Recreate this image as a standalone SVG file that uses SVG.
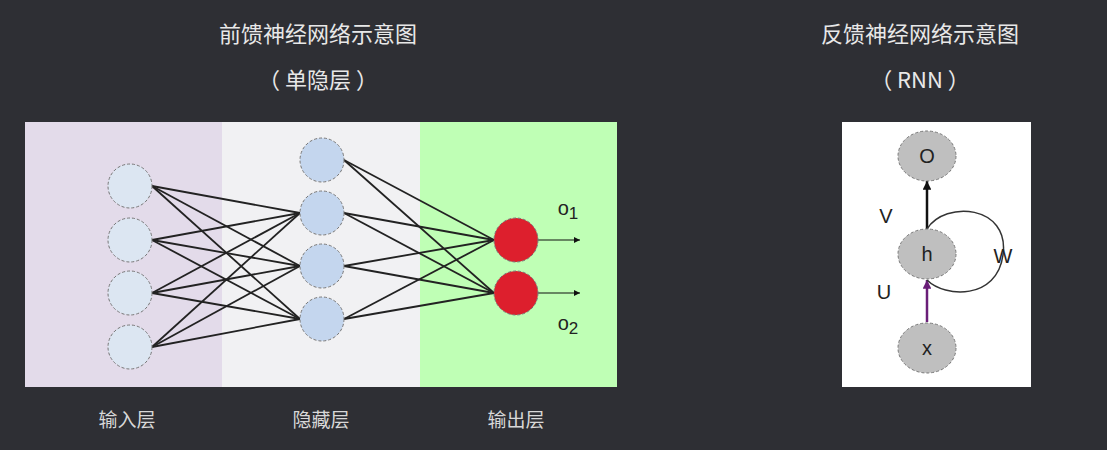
<svg xmlns="http://www.w3.org/2000/svg" width="1107" height="450" viewBox="0 0 1107 450">
<defs>
<style>
.t{font-family:"Noto Sans CJK SC","Liberation Sans",sans-serif;fill:#e8e8e8;font-size:22px;text-anchor:middle}
.b{font-family:"Noto Sans CJK SC","Liberation Sans",sans-serif;fill:#d8d8d8;font-size:19px;text-anchor:middle}
.n{stroke:#777;stroke-width:1;stroke-dasharray:3,2}
.in{fill:#dce6f2}.hid{fill:#c4d6ee}.out{fill:#dd1f2d}.g{fill:#bfbfbf}
.e line{stroke:#222;stroke-width:1.8}
.l{font-family:"Liberation Sans",sans-serif;fill:#222;font-size:20px;text-anchor:middle}
</style>
<marker id="a" viewBox="0 0 8 8" refX="8" refY="4" markerWidth="5" markerHeight="5" orient="auto"><path d="M0,0L8,4L0,8z" fill="#111"/></marker>
<marker id="a2" viewBox="0 0 8 8" refX="8" refY="4" markerWidth="3.5" markerHeight="3.5" orient="auto"><path d="M0,0L8,4L0,8z" fill="#111"/></marker>
<marker id="ap" viewBox="0 0 8 8" refX="8" refY="4" markerWidth="3.5" markerHeight="3.5" orient="auto"><path d="M0,0L8,4L0,8z" fill="#6a1e78"/></marker>
</defs>
<rect width="1107" height="450" fill="#2e2f34"/>
<text class="t" x="318" y="42">前馈神经网络示意图</text>
<text class="t" x="318" y="88">（ 单隐层 ）</text>
<text class="t" x="920" y="42">反馈神经网络示意图</text>
<text class="t" x="920" y="88">（ RNN ）</text>
<rect x="25" y="122" width="197" height="265" fill="#e3dbea"/>
<rect x="222" y="122" width="198" height="265" fill="#f1f1f3"/>
<rect x="420" y="122" width="197" height="265" fill="#bfffb5"/>
<rect x="842" y="122" width="189" height="265" fill="#fff"/>
<g id="connectors">
<g class="e">
<line x1="152" y1="186" x2="300" y2="213"/><line x1="152" y1="186" x2="300" y2="266"/><line x1="152" y1="186" x2="300" y2="319"/>
<line x1="152" y1="240" x2="300" y2="213"/><line x1="152" y1="240" x2="300" y2="266"/><line x1="152" y1="240" x2="300" y2="319"/>
<line x1="152" y1="293" x2="300" y2="213"/><line x1="152" y1="293" x2="300" y2="266"/><line x1="152" y1="293" x2="300" y2="319"/>
<line x1="152" y1="347" x2="300" y2="213"/><line x1="152" y1="347" x2="300" y2="266"/><line x1="152" y1="347" x2="300" y2="319"/>
<line x1="344" y1="160" x2="494" y2="240"/><line x1="344" y1="160" x2="494" y2="293"/>
<line x1="344" y1="213" x2="494" y2="240"/><line x1="344" y1="213" x2="494" y2="293"/>
<line x1="344" y1="266" x2="494" y2="240"/><line x1="344" y1="266" x2="494" y2="293"/>
<line x1="344" y1="319" x2="494" y2="240"/><line x1="344" y1="319" x2="494" y2="293"/>
</g>
<line x1="538" y1="240" x2="580" y2="240" stroke="#111" stroke-width="1.2" marker-end="url(#a)"/>
<line x1="538" y1="293" x2="580" y2="293" stroke="#111" stroke-width="1.2" marker-end="url(#a)"/>
<line x1="927" y1="229" x2="927" y2="181" stroke="#111" stroke-width="2.5" marker-end="url(#a2)"/>
<line x1="927" y1="322" x2="927" y2="280" stroke="#6a1e78" stroke-width="2.5" marker-end="url(#ap)"/>
<path d="M927,229 C945,200 1010,205 1003,255 C997,300 945,298 927,280" fill="none" stroke="#333" stroke-width="1.5"/>
</g>
<g id="input"><circle class="n in" cx="130" cy="186" r="22"/><circle class="n in" cx="130" cy="240" r="22"/><circle class="n in" cx="130" cy="293" r="22"/><circle class="n in" cx="130" cy="347" r="22"/></g>
<g id="hidden"><circle class="n hid" cx="322" cy="160" r="22"/><circle class="n hid" cx="322" cy="213" r="22"/><circle class="n hid" cx="322" cy="266" r="22"/><circle class="n hid" cx="322" cy="319" r="22"/></g>
<g id="output"><circle class="n out" cx="516" cy="240" r="22"/><circle class="n out" cx="516" cy="293" r="22"/>
<text class="l" x="568" y="215" font-size="24">o<tspan font-size="17" dy="4">1</tspan></text>
<text class="l" x="568" y="330" font-size="24">o<tspan font-size="17" dy="4">2</tspan></text></g>
<g id="O"><ellipse class="n g" cx="927" cy="156" rx="29" ry="25"/><text class="l" x="927" y="163">O</text></g>
<g id="h"><ellipse class="n g" cx="927" cy="254" rx="29" ry="25"/><text class="l" x="927" y="261">h</text></g>
<g id="x"><ellipse class="n g" cx="927" cy="348" rx="29" ry="25"/><text class="l" x="927" y="355">x</text></g>
<text class="l" x="886" y="223">V</text>
<text class="l" x="1003" y="263">W</text>
<text class="l" x="884" y="299">U</text>
<text class="b" x="127" y="427">输入层</text>
<text class="b" x="321" y="427">隐藏层</text>
<text class="b" x="516" y="427">输出层</text>
</svg>
